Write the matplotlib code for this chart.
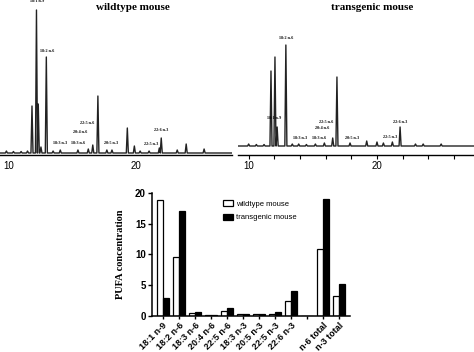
import matplotlib
matplotlib.use("Agg")
import matplotlib.pyplot as plt
import numpy as np
from matplotlib.patches import Patch
from matplotlib.ticker import MultipleLocator

# --- chromatogram peaks (retention time [min], peak height above baseline) ---
wt_peak_time = [9.85, 10.4, 11.0, 11.5, 11.85, 12.2, 12.34, 12.55, 12.97, 13.5, 14.06,
                15.44, 16.25, 16.6, 17.0, 17.7, 18.1, 19.3, 19.85, 20.3, 21.0,
                21.8, 21.95, 23.2, 23.9, 25.3]
wt_peak_height = [2, 1.5, 1.5, 2, 47, 143, 49, 6, 96, 2, 3,
                  3, 4, 8, 57, 3, 3, 25, 7, 2, 2,
                  5, 15, 3, 9, 4]
wt_baseline = 2

tg_peak_time = [10.0, 10.6, 11.2, 11.74, 12.05, 12.22, 12.9, 13.4, 13.9, 14.5, 15.2,
                15.9, 16.55, 16.88, 17.9, 19.2, 20.0, 20.5, 21.2, 21.8, 23.0,
                23.6, 25.0]
tg_peak_height = [2, 1.5, 1.5, 75, 89, 19, 101, 2, 2, 1.5, 2,
                  3, 8, 69, 3, 5, 4, 3, 4, 19, 2,
                  2, 2]
tg_baseline = 9

# --- bar chart ---
categories = ["18:1 n-9", "18:2 n-6", "18:3 n-6", "20:4 n-6", "22:5 n-6",
              "18:3 n-3", "20:5 n-3", "22:5 n-3", "22:6 n-3", "",
              "n-6 total", "n-3 total"]
wildtype = [18.8, 9.65, 0.5, 0.15, 0.8, 0.4, 0.25, 0.25, 2.5, 0, 10.9, 3.25]
transgenic = [3.0, 17.05, 0.6, 0.15, 1.3, 0.3, 0.3, 0.6, 4.1, 0, 18.95, 5.15]

W, H = 474, 352
serif = ["Liberation Serif", "DejaVu Serif"]
sans = ["Liberation Sans", "DejaVu Sans"]


def trace(times, heights, base, half=0.08):
    xs, ys = [], []
    for t, h in zip(times, heights):
        xs += [t - half, t, t + half]
        ys += [base, base + h, base]
    return xs, ys


def chromatogram(rect, times, heights, base, xlim, title, title_pos, labels, ticks):
    ax = fig.add_axes(rect)
    xs, ys = trace(times, heights, base)
    xs = [xlim[0]] + xs + [xlim[1]]
    ys = [base] + ys + [base]
    ax.plot(xs, ys, color="#222222", lw=1.0)
    ax.set_xlim(*xlim)
    ax.set_ylim(0, 155)
    for s in ["top", "left", "right"]:
        ax.spines[s].set_visible(False)
    ax.spines["bottom"].set_linewidth(1.0)
    ax.set_yticks([])
    ax.set_xticks([10, 20])
    ax.set_xticklabels(["10", "20"], family=sans, fontsize=7)
    if ticks:
        ax.xaxis.set_minor_locator(MultipleLocator(2))
        ax.tick_params(axis="x", which="both", length=3, width=0.8, pad=1.5)
    else:
        ax.tick_params(axis="x", length=0, pad=4)
    ax.text(title_pos[0], title_pos[1], title, family=serif, weight="bold",
            fontsize=8, ha="center", va="center")
    for txt, x, y in labels:
        ax.text(x, y, txt, family=serif, weight="bold", fontsize=3,
                ha="center", va="center")
    return ax


fig = plt.figure(figsize=(W / 100, H / 100), dpi=100)

chromatogram([0, (H - 155) / H, 232 / W, 155 / H], wt_peak_time, wt_peak_height,
             wt_baseline, (9.35, 27.48), "wildtype mouse", (19.75, 148),
             [("18:1 n-9", 12.24, 154), ("18:2 n-6", 13.02, 104),
              ("18:3 n-3", 14.04, 12), ("18:3 n-6", 15.45, 12),
              ("20:4 n-6", 15.6, 23), ("22:5 n-6", 16.15, 32),
              ("20:5 n-3", 18.06, 12), ("22:5 n-3", 21.15, 11),
              ("22:6 n-3", 21.93, 25)], ticks=False)

chromatogram([238 / W, (H - 155) / H, 236 / W, 155 / H], tg_peak_time, tg_peak_height,
             tg_baseline, (9.17, 27.56), "transgenic mouse", (19.62, 147),
             [("18:2 n-6", 12.95, 117), ("18:1 n-9", 12.01, 37),
              ("18:3 n-3", 14.0, 17), ("18:3 n-6", 15.48, 17),
              ("20:4 n-6", 15.71, 27), ("22:5 n-6", 16.06, 33),
              ("20:5 n-3", 18.05, 17), ("22:5 n-3", 21.01, 18),
              ("22:6 n-3", 21.79, 33)], ticks=True)

# bar chart
ax = fig.add_axes([152 / W, (H - 316) / H, 198 / W, 123.3 / H])
x = np.arange(len(categories))
bw = 0.36
ax.bar(x - bw / 2, wildtype, bw, color="white", edgecolor="black", lw=0.9)
ax.bar(x + bw / 2, transgenic, bw, color="black", edgecolor="black", lw=0.9)
ax.set_xlim(-0.67, 11.68)
ax.set_ylim(0, 20)
ax.set_yticks([0, 5, 10, 15, 20])
ax.set_yticklabels(["0", "5", "10", "15", "20"], family=sans, weight="bold", fontsize=7)
ax.set_xticks(x)
ax.set_xticklabels(categories, family=sans, weight="bold", fontsize=6.5,
                   rotation=45, ha="right", rotation_mode="anchor")
ax.tick_params(axis="y", length=3, width=1, pad=1.5)
ax.tick_params(axis="x", length=2, width=1, pad=1.5)
for s in ["top", "right"]:
    ax.spines[s].set_visible(False)
ax.spines["left"].set_linewidth(1.1)
ax.spines["bottom"].set_linewidth(1.1)
ax.set_ylabel("PUFA concentration", family=serif, weight="bold", fontsize=7.5, labelpad=7)

handles = [Patch(facecolor="white", edgecolor="black", lw=0.9, label="wildtype mouse"),
           Patch(facecolor="black", edgecolor="black", lw=0.9, label="transgenic mouse")]
ax.legend(handles=handles, loc="upper left", bbox_to_anchor=(0.345, 0.965), frameon=False,
          prop={"family": sans, "size": 5.5}, handlelength=1.2, handleheight=0.9,
          handletextpad=0.45, labelspacing=0.75, borderaxespad=0)

fig.savefig("out.png", dpi=100)
